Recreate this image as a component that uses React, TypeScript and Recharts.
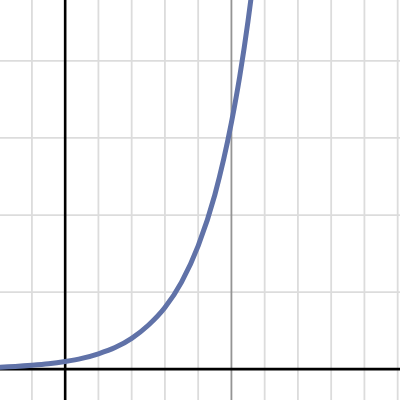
import React from "react";
import { ComposedChart, Line, XAxis, YAxis, ReferenceLine } from "recharts";

// curve samples (x in grid units, y where one horizontal grid step = 10)
const xs = [-2.2, -2, -1.5, -1, -0.5, 0, 0.5, 1, 1.5, 2, 2.5, 3, 3.5, 4, 4.5, 5, 5.25, 5.5, 5.75, 6];
const ys = [0.22, 0.25, 0.35, 0.5, 0.7, 1.0, 1.4, 2.0, 2.8, 4.0, 5.7, 8.0, 11.3, 16.0, 22.6, 32.0, 38.0, 45.2, 53.8, 64.0];

const xGrid = [-1, 1, 2, 3, 4, 6, 7, 8, 9, 10];
const yGrid = [10, 20, 30, 40];
const xMajor = [5];

const data = xs.map((x, i) => ({ x, y: ys[i] }));

export default function App() {
  return (
    <div style={{ position: "fixed", left: 0, top: 0, width: 400, height: 400, background: "#fff" }}>
      <ComposedChart width={400} height={400} data={data} margin={{ top: 0, right: 0, bottom: 0, left: 0 }}>
        <XAxis dataKey="x" type="number" domain={[-1.96, 10.07]} allowDataOverflow hide />
        <YAxis type="number" domain={[-4.0, 47.9]} allowDataOverflow hide />
        {xGrid.map((v) => (
          <ReferenceLine key={"gx" + v} x={v} stroke="#dcdcdc" strokeWidth={1.8} ifOverflow="extendDomain" />
        ))}
        {yGrid.map((v) => (
          <ReferenceLine key={"gy" + v} y={v} stroke="#dcdcdc" strokeWidth={1.8} />
        ))}
        {xMajor.map((v) => (
          <ReferenceLine key={"mx" + v} x={v} stroke="#949494" strokeWidth={1.8} />
        ))}
        <ReferenceLine x={0} stroke="#000" strokeWidth={2.6} />
        <ReferenceLine y={0} stroke="#000" strokeWidth={2.6} />
        <Line
          dataKey="y"
          type="monotone"
          stroke="#6072a8"
          strokeWidth={5}
          dot={false}
          isAnimationActive={false}
        />
      </ComposedChart>
    </div>
  );
}
